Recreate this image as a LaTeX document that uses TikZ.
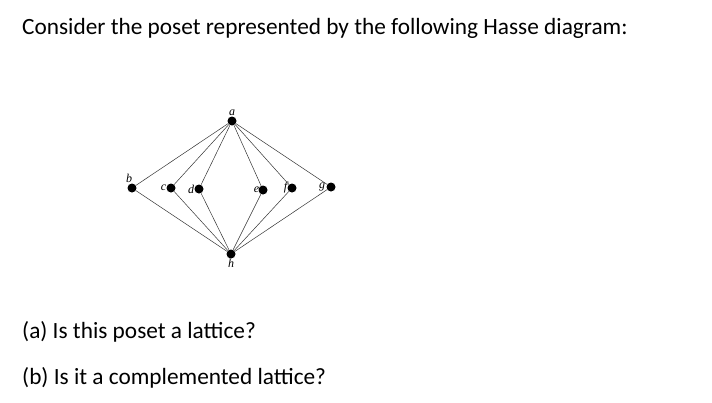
\documentclass[tikz,border=0pt]{standalone}
\usepackage{fontspec}
\setmainfont{Carlito}
\newfontfamily\labelfont{Liberation Serif}
\usetikzlibrary{positioning}
\tikzset{>=stealth}
\tikzset{
	elem/.style={circle, fill=black, inner sep=0pt, minimum size=9pt},
	lbl/.style={font=\labelfont\itshape\fontsize{12pt}{12pt}\selectfont, inner sep=1pt},
	txt/.style={anchor=west, inner sep=0pt, font=\fontsize{23.3pt}{27pt}\selectfont},
	edge/.style={draw=black!80, line width=0.5pt}
}

\begin{document}
\begin{tikzpicture}[x=1pt, y=-1pt]
		\useasboundingbox (0,0) rectangle (712,402);
		\node[txt] (title) at (22,28) {Consider the poset represented by the following Hasse diagram:};
		% elements of the poset
		\node[elem] (a) at (232,121) {};
		\node[elem] (b) at (132,188) {};
		\node[elem] (c) at (171,188) {};
		\node[elem] (d) at (199,189) {};
		\node[elem] (e) at (263,190) {};
		\node[elem] (f) at (292,188) {};
		\node[elem] (g) at (331,187) {};
		\node[elem] (h) at (231,254) {};
		% labels
		\node[lbl, above=-1pt of a] {a};
		\node[lbl, above=-1pt of b, xshift=-3pt] {b};
		\node[lbl, left=-1pt of c] {c};
		\node[lbl, left=-1pt of d] {d};
		\node[lbl, left=-2pt of e] {e};
		\node[lbl, left=-1pt of f] {f};
		\node[lbl, left=0pt of g] {g};
		\node[lbl, below=-1pt of h] {h};
		% covering relations
		\foreach \x in {b,c,d,e,f,g}
		{
			\draw[edge] (a) -- (\x);
			\draw[edge] (\x) -- (h);
		}
		\node[txt] (qa) at (22,332) {(a) Is this poset a lattice?};
		\node[txt] (qb) at (22,378) {(b) Is it a complemented lattice?};
	\end{tikzpicture}
\end{document}
